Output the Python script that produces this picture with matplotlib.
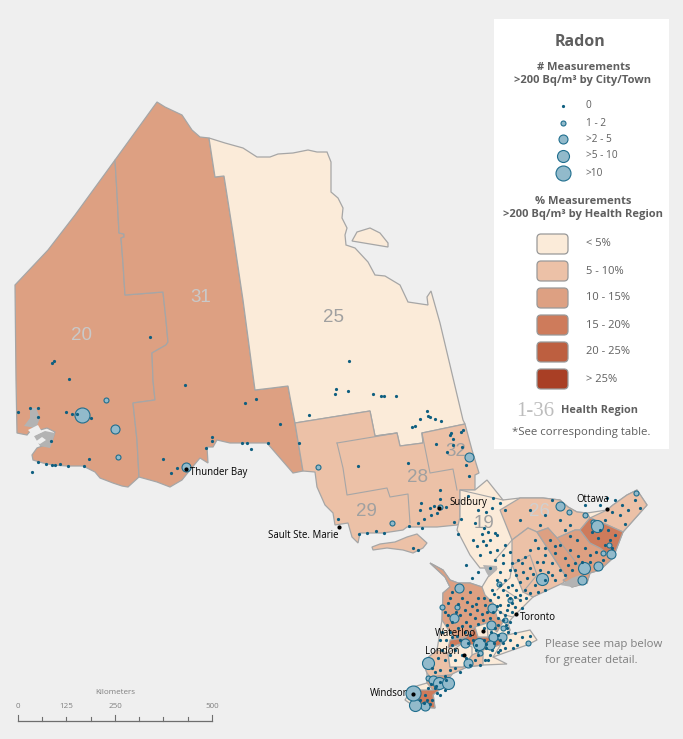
import matplotlib
matplotlib.use('Agg')
import matplotlib.pyplot as plt
from matplotlib.patches import Polygon, FancyBboxPatch, Rectangle

plt.rcParams['font.family'] = ['Open Sans', 'DejaVu Sans']

# class colours, % measurements
pale = '#FBEBD9'
light = '#ECC1A7'
mid = '#DDA082'
strong = '#CE7B5B'
deep = '#BD5F40'
darkest = '#A93F25'
class_colors = [pale, light, mid, strong, deep, darkest]
class_labels = ['< 5%', '5 - 10%', '10 - 15%', '15 - 20%', '20 - 25%', '> 25%']
count_labels = ['0', '1 - 2', '>2 - 5', '>5 - 10', '>10']

# region outlines in image pixels
region_20 = [(15,285),(48,250),(75,215),(115,160),(117,193),(119,233),(124,234),(124,237),(121,238),(123,263),(125,295),
             (163,292),(166,320),(168,342),(166,345),(152,353),(153,380),(155,400),(133,403),(137,440),(139,477),
             (128,487),(122,486),(113,483),(100,478),(95,472),(83,466),(67,466),(53,465),(43,463),(33,460),(32,455),
             (37,448),(45,445),(52,441),(55,432),(47,428),(40,430),(36,424),(27,435),(17,433),(16,380)]
region_31 = [(115,160),(157,102),(165,107),(182,115),(192,130),(200,137),(209,138),(215,177),(224,176),(233,233),(243,300),
             (255,390),(272,388),(288,386),(290,397),(295,423),(303,471),(293,473),(280,458),(267,443),(247,443),(230,443),
             (217,440),(213,447),(207,447),(208,463),(200,458),(190,470),(182,480),(170,487),(157,482),(139,477),(137,440),
             (133,403),(155,400),(153,380),(152,353),(166,345),(168,342),(166,320),(163,292),(125,295),(123,263),(121,238),
             (124,237),(124,234),(119,233),(117,193)]
region_25 = [(209,138),(225,143),(243,148),(257,157),(270,157),(278,154),(293,153),(308,150),(317,152),(327,152),(331,162),
             (331,182),(331,192),(338,198),(343,208),(342,218),(347,228),(345,235),(346,245),(355,248),(368,262),(375,275),
             (385,276),(400,285),(408,302),(428,305),(427,297),(431,291),(440,323),(463,420),(465,424),(422,433),(423,443),
             (400,446),(397,433),(375,436),(370,411),(295,423),(290,397),(288,386),(272,388),(255,390),(243,300),(233,233),
             (224,176),(215,177)]
akimiski = [(352,241),(357,232),(370,228),(380,233),(388,243),(388,247),(370,244)]
region_north_east = [(295,423),(370,411),(375,436),(397,433),(400,446),(423,443),(422,433),(465,424),(472,450),(479,473),
                     (475,475),(475,490),(460,490),(460,517),(468,519),(457,525),(437,527),(407,527),(403,530),(383,533),
                     (360,533),(358,543),(352,537),(348,523),(335,525),(333,513),(325,505),(317,487),(315,472),(303,471)]
manitoulin = [(372,547),(380,544),(395,542),(407,537),(417,534),(427,543),(423,548),(413,553),(403,550),(387,548),(373,550)]
south_base = [(460,490),(475,490),(487,480),(503,500),(520,498),(543,498),(560,500),(568,507),(577,512),(587,513),(607,510),
              (613,505),(627,495),(637,490),(645,502),(647,505),(623,532),(613,558),(600,570),(590,573),(587,583),(572,587),
              (563,580),(550,587),(533,597),(523,607),(513,617),(508,623),(510,630),(507,635),(530,630),(537,640),(527,645),
              (507,652),(493,657),(507,664),(483,665),(467,667),(453,673),(443,687),(433,693),(435,708),(425,707),(415,707),
              (405,700),(413,687),(427,683),(427,673),(423,662),(437,650),(442,620),(443,593),(450,587),(445,577),(430,563),
              (443,570),(450,580),(458,583),(470,583),(482,587),(488,577),(497,568),(480,568),(470,555),(457,530),(460,517)]
region_26 = [(500,510),(520,498),(543,498),(560,500),(568,507),(577,512),(587,513),(590,518),(580,530),(575,530),(557,538),
             (548,528),(537,532),(528,528),(512,540)]
region_east_tip = [(590,518),(607,510),(613,505),(627,495),(637,490),(645,502),(647,505),(623,532),(603,523)]
region_ottawa = [(580,530),(590,518),(603,523),(623,532),(613,558),(600,548),(590,543)]
region_kingston = [(537,532),(548,528),(557,538),(575,530),(580,530),(590,543),(600,548),(613,558),(600,570),(590,573),
                   (587,583),(572,587),(563,580),(567,578)]
region_peterborough = [(512,540),(528,528),(537,532),(567,578),(563,583),(533,597),(523,592),(512,565)]
region_bruce = [(430,563),(443,570),(450,580),(458,583),(470,583),(482,587),(485,595),(493,603),(497,617),(503,622),(497,632),
                (487,623),(475,627),(465,638),(455,640),(442,620),(443,593),(450,587),(445,577)]
region_central = [(450,640),(465,638),(475,627),(478,637),(488,637),(503,637),(500,645),(483,650),(473,645),(463,643),(448,648)]
region_middlesex = [(423,662),(437,650),(448,653),(450,667),(463,667),(472,655),(483,650),(483,665),(467,667),(450,675),
                    (430,677),(427,673)]
region_london = [(448,653),(463,643),(472,647),(472,655),(463,667),(450,667)]
region_waterloo = [(475,627),(487,623),(488,637),(478,637)]
region_chatham = [(427,677),(450,675),(443,687),(433,690),(427,683)]
region_windsor = [(413,700),(417,690),(433,690),(442,688),(433,695),(435,708),(415,707)]
lake_patch_1 = [(30,408),(36,408),(40,418),(36,428),(24,426),(30,418)]
lake_patch_2 = [(34,436),(45,431),(55,433),(52,443),(50,448),(40,446)]
lake_patch_3 = [(560,585),(572,578),(580,575),(585,583),(572,587)]
lake_patch_4 = [(483,565),(497,566),(497,570),(489,577),(486,572)]
land_gap_1 = [(28,430),(38,425),(42,432),(34,436)]
land_gap_2 = [(35,442),(42,437),(46,440),(40,444)]
inner_lines = [
    [(337,443),(397,433)], [(337,443),(343,468),(347,495),(387,488),(390,497),(408,494),(410,523)],
    [(422,433),(430,473),(453,469),(457,490)],
    [(512,565),(530,555),(537,575),(523,592)], [(557,538),(582,570)],
    [(495,560),(512,540)], [(497,590),(510,578),(512,565)], [(505,590),(520,600)], [(490,605),(505,615),(513,617)],
    [(510,630),(493,657)], [(460,490),(503,500)],
]

# measurement sites, one list per count class
sites_zero = [(18,412),(30,408),(38,408),(38,417),(66,412),(72,414),(77,414),(91,418),(51,441),(38,462),(46,464),(52,465),
              (55,465),(60,464),(68,466),(84,466),(89,459),(32,472),(163,459),(177,468),(171,473),(185,385),(245,403),
              (256,399),(280,424),(212,437),(212,441),(206,448),(242,443),(247,443),(251,449),(268,443),(150,337),(54,361),
              (52,363),(69,379),(349,361),(336,389),(335,394),(348,391),(373,394),(381,396),(384,396),(396,396),(427,411),
              (428,416),(430,417),(435,419),(441,421),(420,419),(415,426),(412,427),(463,430),(461,432),(451,433),(450,435),
              (453,439),(436,444),(453,445),(447,452),(462,447),(466,465),(469,476),(309,415),(299,443),(408,463),(358,466),
              (338,519),(421,503),(440,499),(434,506),(446,507),(431,515),(437,513),(424,519),(418,523),(409,526),(422,528),
              (454,522),(461,519),(458,534),(482,534),(477,546),(483,541),(493,498),(492,508),(475,523),(488,532),(495,533),
              (413,548),(418,550),(359,534),(367,533),(376,531),(384,533),(440,490),(420,510),(430,508),(468,496),(486,512),
              (500,503),(505,510),(478,510),(484,528),(490,540),(497,535),(505,545),(497,550),(490,552),(503,555),(510,552),
              (495,560),(503,563),(512,563),(490,568),(500,572),(510,570),(516,575),(497,580),(505,580),(492,590),(503,590),
              (512,585),(520,582),(490,600),(498,597),(507,595),(515,597),(525,590),(530,593),(493,612),(500,605),(508,605),
              (515,607),(505,615),(512,612),(498,618),(520,600),(510,598),(525,557),(530,550),(522,563),(530,568),(537,562),
              (545,555),(527,578),(535,585),(548,572),(552,563),(545,548),(555,553),(560,545),(565,558),(570,550),(578,556),
              (585,548),(572,570),(565,575),(555,580),(545,590),(538,592),(520,520),(530,510),(545,515),(552,500),(560,520),
              (570,525),(585,505),(600,505),(607,498),(615,500),(622,505),(628,510),(635,500),(640,508),(620,515),(612,512),
              (605,520),(625,524),(615,535),(608,530),(598,538),(605,545),(590,555),(452,592),(462,598),(470,592),(478,598),
              (485,605),(448,603),(456,612),(465,610),(472,606),(482,614),(447,625),(458,628),(466,622),(475,618),(483,620),
              (450,632),(457,636),(465,632),(490,618),(495,628),(500,640),(506,625),(510,640),(515,633),(522,637),(530,636),
              (517,645),(505,648),(498,652),(490,655),(485,660),(494,643),(484,640),(473,640),(452,645),(446,640),(442,650),
              (438,658),(445,660),(455,660),(462,655),(475,660),(480,665),(470,665),(440,670),(450,670),(460,672),(432,668),
              (428,688),(435,688),(440,695),(445,690),(425,695),(432,700),(420,700),(437,693),(427,700),(498,625),(510,622),
              (513,648),(486,648),(476,650),(470,635),(440,640),(442,632),
              (448,615),(452,622),(460,615),(470,614),(477,610),(487,612),(450,598),(458,604),(467,602),(476,604),(484,598),
              (445,612),(462,626),(470,626),(478,624),(452,637),(460,640),(468,643),(476,645),(486,644),(492,650),(500,650),
              (503,643),(508,632),(503,620),(500,612),(507,610),(497,606),(494,594),(500,585),(508,587),(516,590),(520,595),
              (526,598),(512,603),(522,608),(516,614),(507,628),(498,635),(491,632),(484,628),(455,650),(450,655),(435,672),
              (445,676),(455,668),(466,658),(478,655),(488,660),(440,682),(446,680),(431,684),(424,703),(430,704),(436,686),
              (518,560),(515,570),(523,572),(533,574),(540,570),(545,580),(552,575),(560,570),(568,565),(575,563),(582,562),
              (590,562),(596,552),(603,560),(612,548),(592,532),(600,530),(610,540),(577,540),(570,536),(565,530),(540,525),
              (550,540),(555,546),(535,540),(538,548),(543,562),(472,578),(478,572),(466,565),(473,540),(480,555),(486,545)]
sites_low = [(106,400),(118,457),(318,467),(392,523),(440,507),(569,512),(585,515),(636,493),(593,522),(603,553),
             (609,545),(428,678),(499,584),(528,643),(442,607),(457,607),(505,620),(480,653),(503,628),(510,600)]
sites_mid = [(115,429),(186,467),(469,457),(560,506),(598,566),(582,580),(611,554),(433,680),(468,663),(465,643),(493,637),
             (502,637),(491,625),(454,618),(492,608),(459,588),(490,645),(425,706)]
sites_high = [(428,663),(415,705),(439,683),(448,683),(479,644),(542,579),(584,568),(597,526)]
sites_top = [(82,415),(413,693)]

site_groups = [sites_zero, sites_low, sites_mid, sites_high, sites_top]
site_diam = [3.2, 5, 9, 12, 15]

fig = plt.figure(figsize=(6.83, 7.39), dpi=100, facecolor='#EFEFEF')
ax = fig.add_axes([0, 0, 1, 1])
ax.set_xlim(0, 683)
ax.set_ylim(739, 0)
ax.axis('off')

border = '#A6A6A6'


def region(points, color, z=2):
    ax.add_patch(Polygon(points, closed=True, facecolor=color, edgecolor=border, linewidth=0.9, zorder=z))


region(region_20, mid)
region(region_31, mid)
region(region_25, pale)
region(akimiski, pale)
region(region_north_east, light)
region(manitoulin, light)
region(south_base, pale)
region(region_26, light, 3)
region(region_east_tip, light, 3)
region(region_peterborough, light, 3)
region(region_kingston, mid, 3)
region(region_ottawa, strong, 4)
region(region_bruce, mid, 3)
region(region_central, strong, 3)
region(region_middlesex, light, 3)
region(region_london, pale, 4)
region(region_waterloo, pale, 4)
region(region_chatham, mid, 3)
region(region_windsor, strong, 3)
for patch in [lake_patch_1, lake_patch_2, lake_patch_3, lake_patch_4]:
    ax.add_patch(Polygon(patch, closed=True, facecolor='#B3B3B3', edgecolor='none', zorder=5))
for gap in [land_gap_1, land_gap_2]:
    ax.add_patch(Polygon(gap, closed=True, facecolor='#EFEFEF', edgecolor='none', zorder=6))
for line in inner_lines:
    ax.plot([p[0] for p in line], [p[1] for p in line], color=border, lw=0.8, zorder=5)

# region numbers
for num, x, y, col in [('20', 82, 336, '#C9C9C9'), ('31', 201, 298, '#C9C9C9'), ('25', 333, 317, '#A0A0A0'),
                       ('28', 417, 477, '#A0A0A0'), ('29', 366, 511, '#A0A0A0'), ('32', 456, 451, '#A0A0A0'),
                       ('19', 484, 523, '#A0A0A0'), ('26', 540, 512, '#D0D0D0')]:
    ax.text(x, y, num, color=col, fontsize=13.5, ha='center', va='center', zorder=7, family='Liberation Sans')

# sites
dots = ax.scatter([p[0] for p in sites_zero], [p[1] for p in sites_zero], s=(site_diam[0] * 0.72) ** 2, marker='o',
                  color='#0F5F80', linewidths=0, zorder=9)
dots.set_snap(False)
for group, d in zip(site_groups[1:], site_diam[1:]):
    ax.scatter([p[0] for p in group], [p[1] for p in group], s=(d * 0.72) ** 2, facecolor='#92BACB', edgecolor='#1F6E8E',
               linewidths=0.8, zorder=8)

# city labels
for name, x, y in [('Thunder Bay', 190, 472), ('Sudbury', 449, 503), ('Sault Ste. Marie', 268, 536), ('Ottawa', 576, 500),
                   ('Toronto', 520, 618), ('Waterloo', 435, 633), ('London', 425, 652), ('Windsor', 370, 693)]:
    ax.text(x, y, name, fontsize=6.9, color='black', va='center', ha='left', zorder=10)
for x, y in [(186, 469), (439, 508), (339, 527), (607, 509), (516, 614), (483, 631), (464, 655), (413, 694)]:
    ax.plot(x, y, 'o', color='black', ms=2, zorder=10)
ax.text(545, 644, 'Please see map below', fontsize=8.2, color='#7F7F7F', va='center', zorder=10)
ax.text(545, 660, 'for greater detail.', fontsize=8.2, color='#7F7F7F', va='center', zorder=10)

# legend panel
ax.add_patch(Rectangle((494, 19), 175, 430, facecolor='white', edgecolor='none', zorder=11))
txt = '#5F5F5F'
ax.text(580, 42, 'Radon', fontsize=11.5, fontweight='bold', color=txt, ha='center', va='center', zorder=12)
ax.text(584, 68, '# Measurements', fontsize=8, fontweight='bold', color=txt, ha='center', va='center', zorder=12)
ax.text(583, 81, '>200 Bq/m³ by City/Town', fontsize=8, fontweight='bold', color=txt, ha='center', va='center', zorder=12)
ax.text(583, 202, '% Measurements', fontsize=8, fontweight='bold', color=txt, ha='center', va='center', zorder=12)
ax.text(583, 215, '>200 Bq/m³ by Health Region', fontsize=8, fontweight='bold', color=txt, ha='center', va='center', zorder=12)
for i, label in enumerate(count_labels):
    y = [106, 123, 139, 156, 173][i]
    if i == 0:
        key = ax.scatter([563], [y], s=(site_diam[0] * 0.72) ** 2, marker='o', color='#0F5F80', linewidths=0, zorder=12)
        key.set_snap(False)
    else:
        ax.scatter([563], [y], s=(site_diam[i] * 0.72) ** 2, facecolor='#92BACB', edgecolor='#1F6E8E', linewidths=0.8, zorder=12)
    ax.text(586, y, label, fontsize=7.3, color=txt, va='center', zorder=12)
for i, label in enumerate(class_labels):
    y = 234 + i * 27
    ax.add_patch(FancyBboxPatch((540, y + 3), 25, 14, boxstyle='round,pad=3,rounding_size=4', facecolor=class_colors[i],
                                edgecolor='#999999', linewidth=0.9, zorder=12))
    ax.text(586, y + 10, label, fontsize=8, color=txt, va='center', zorder=12)
ax.text(535, 412, '1-36', fontsize=15, color='#BDBDBD', ha='center', va='center', family='Liberation Serif', zorder=12)
ax.text(561, 411, 'Health Region', fontsize=7.8, fontweight='bold', color=txt, va='center', zorder=12)
ax.text(581, 432, '*See corresponding table.', fontsize=8.2, color=txt, ha='center', va='center', zorder=12)

# scale bar
bar = '#6E6E6E'
ax.plot([18, 212], [721, 721], color=bar, lw=0.9, zorder=10)
for x in [18, 42, 66, 91, 115, 139, 163, 188, 212]:
    top = 715 if x in (18, 115, 212) else 717
    ax.plot([x, x], [721, top], color=bar, lw=0.8, zorder=10)
for x, label in [(18, '0'), (66, '125'), (115, '250'), (212, '500')]:
    ax.text(x, 706, label, fontsize=5.8, color='#808080', ha='center', va='center', zorder=10)
ax.text(115, 692, 'Kilometers', fontsize=5.8, color='#808080', ha='center', va='center', zorder=10)

fig.savefig('out.png', dpi=100, facecolor=fig.get_facecolor())
